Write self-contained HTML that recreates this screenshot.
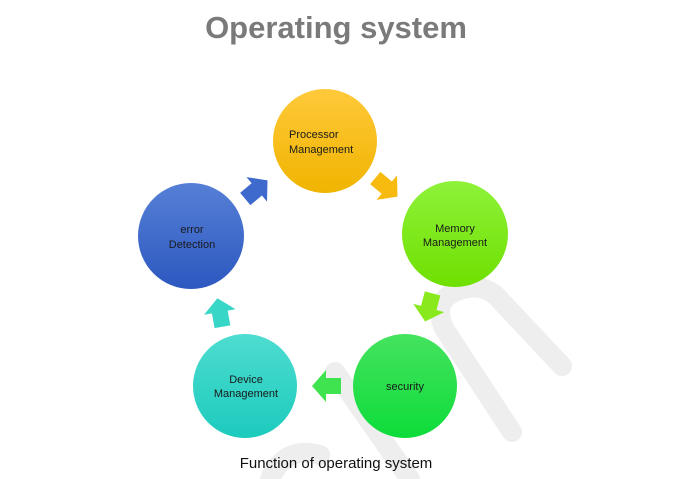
<!DOCTYPE html>
<html><head><style>
body{margin:0;background:#fff;}
svg{display:block}
text{font-family:"Liberation Sans",sans-serif;}
</style></head><body>
<svg width="680" height="479" viewBox="0 0 680 479" xmlns="http://www.w3.org/2000/svg">
<defs>
<linearGradient id="gy" x1="0" y1="0" x2="0" y2="1"><stop offset="0" stop-color="#ffc93a"/><stop offset="1" stop-color="#f0b400"/></linearGradient>
<linearGradient id="gl" x1="0" y1="0" x2="0" y2="1"><stop offset="0" stop-color="#8ef23a"/><stop offset="1" stop-color="#6fe000"/></linearGradient>
<linearGradient id="gg" x1="0" y1="0" x2="0" y2="1"><stop offset="0" stop-color="#45e35e"/><stop offset="1" stop-color="#0ddc3a"/></linearGradient>
<linearGradient id="gc" x1="0" y1="0" x2="0" y2="1"><stop offset="0" stop-color="#4edcd0"/><stop offset="1" stop-color="#1ccbbd"/></linearGradient>
<linearGradient id="gb" x1="0" y1="0" x2="0" y2="1"><stop offset="0" stop-color="#5680d6"/><stop offset="1" stop-color="#2c58c0"/></linearGradient>
</defs>
<g stroke="#eeeeee" stroke-width="20" fill="none" stroke-linecap="round">
<path d="M512 432 L445 330 Q430 300 460 290 Q485 282 500 300 L562 366"/>
<path d="M335 372 L410 479"/>
<path d="M270 479 Q285 445 320 455"/>
</g>
<text x="336" y="38" text-anchor="middle" font-size="31" font-weight="bold" fill="#7a7a7a">Operating system</text>
<circle cx="325" cy="141" r="52" fill="url(#gy)"/>
<circle cx="455" cy="234" r="53" fill="url(#gl)"/>
<circle cx="405" cy="386" r="52" fill="url(#gg)"/>
<circle cx="245" cy="386" r="52" fill="url(#gc)"/>
<circle cx="191" cy="236" r="53" fill="url(#gb)"/>
<g font-size="11" fill="#1a1a1a">
<text x="289" y="138">Processor</text><text x="289" y="153">Management</text>
<text x="455" y="232" text-anchor="middle">Memory</text><text x="455" y="246" text-anchor="middle">Management</text>
<text x="405" y="390" text-anchor="middle">security</text>
<text x="246" y="383" text-anchor="middle">Device</text><text x="246" y="397" text-anchor="middle">Management</text>
<text x="192" y="233" text-anchor="middle">error</text><text x="192" y="248" text-anchor="middle">Detection</text>
</g>
<g>
<polygon points="-14,-8 1,-8 1,-16 15,0 1,16 1,8 -14,8" fill="#f7bb10" transform="translate(386,187) rotate(40)"/>
<polygon points="-14,-8 1,-8 1,-16 15,0 1,16 1,8 -14,8" fill="#88ea1c" transform="translate(429,307) rotate(105)"/>
<polygon points="-14,-8 1,-8 1,-16 15,0 1,16 1,8 -14,8" fill="#3ee34f" transform="translate(327,386) rotate(180)"/>
<polygon points="-14,-8 1,-8 1,-16 15,0 1,16 1,8 -14,8" fill="#38d6c6" transform="translate(220,313) rotate(-100)"/>
<polygon points="-14,-8 1,-8 1,-16 15,0 1,16 1,8 -14,8" fill="#3d6acc" transform="translate(256,190) rotate(-40)"/>
</g>
<text x="336" y="468" text-anchor="middle" font-size="15" fill="#111">Function of operating system</text>
</svg>
</body></html>
